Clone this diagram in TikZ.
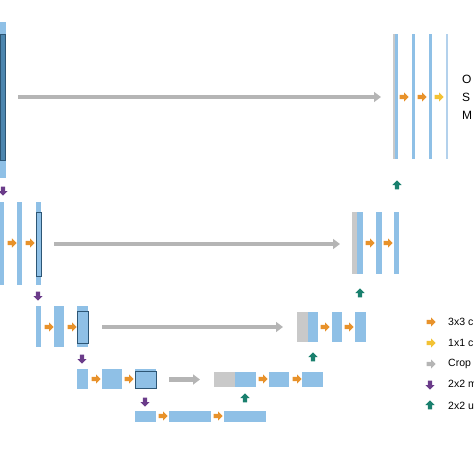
\documentclass[tikz,border=0pt]{standalone}
\usepackage{fontspec}
\setmainfont{Liberation Sans}
\usetikzlibrary{arrows.meta, positioning, shapes.arrows}
\tikzset{every node/.style={font=\fontsize{10.5}{12}\selectfont}}
\definecolor{ublue}{HTML}{8FC0E6}
\definecolor{ufaint}{HTML}{B3D1EC}
\definecolor{udark}{HTML}{4C86AF}
\definecolor{cutline}{HTML}{2D5675}
\definecolor{cropgray}{HTML}{C9C9C9}
\definecolor{skipgray}{HTML}{B5B5B5}
\definecolor{convorange}{HTML}{E8922B}
\definecolor{convyellow}{HTML}{F3C234}
\definecolor{poolpurple}{HTML}{6B3C8A}
\definecolor{upgreen}{HTML}{1A806E}

\begin{document}
\begin{tikzpicture}[x=1pt, y=-1pt,
    blk/.style={fill=ublue, inner sep=0pt, outer sep=0pt, anchor=north west},
    cropblk/.style={blk, fill=cropgray},
    cutbox/.style={draw=cutline, line width=1pt, inner sep=0pt, outer sep=0pt, anchor=north west},
    icon/.style={single arrow, inner sep=2pt, minimum height=9pt, single arrow head extend=2.4pt, single arrow head indent=0pt, outer sep=0pt},
    conv/.style={icon, fill=convorange},
    convone/.style={icon, fill=convyellow},
    cropicon/.style={icon, fill=skipgray},
    pool/.style={icon, fill=poolpurple, shape border rotate=270},
    upc/.style={icon, fill=upgreen, shape border rotate=90},
    skip/.style={draw=skipgray, line width=4.5pt, -{Triangle[length=7pt, width=10pt]}, shorten <=13pt, shorten >=12pt},
    lgd/.style={anchor=west, inner sep=0pt}]
  \useasboundingbox (0,0) rectangle (474,474);

  % contracting path
  \node[blk, minimum width=6pt, minimum height=156pt] (l1) at (0,22) {};
  \node[cutbox, fill=udark, minimum width=5pt, minimum height=126pt] (l1cut) at (0,34) {};
  \node[pool] (p1) at (3,190) {};

  \node[blk, minimum width=4pt, minimum height=83pt] (l2a) at (0,202) {};
  \node[blk, minimum width=5pt, minimum height=83pt] (l2b) at (17,202) {};
  \node[blk, minimum width=5pt, minimum height=83pt] (l2c) at (36,202) {};
  \node[cutbox, minimum width=5pt, minimum height=64pt] (l2cut) at (36,212) {};
  \node[conv] (c21) at (11,243) {};
  \node[conv] (c22) at (29,243) {};
  \node[pool] (p2) at (38,295) {};

  \node[blk, minimum width=5pt, minimum height=41pt] (l3a) at (36,306) {};
  \node[blk, minimum width=10pt, minimum height=41pt] (l3b) at (54,306) {};
  \node[blk, minimum width=11pt, minimum height=41pt] (l3c) at (77,306) {};
  \node[cutbox, minimum width=11pt, minimum height=32pt] (l3cut) at (77,311) {};
  \node[conv] (c31) at (48,327) {};
  \node[conv] (c32) at (71,327) {};
  \node[pool] (p3) at (82,358) {};

  \node[blk, minimum width=11pt, minimum height=20pt] (l4a) at (77,369) {};
  \node[blk, minimum width=20pt, minimum height=20pt] (l4b) at (102,369) {};
  \node[blk, minimum width=21pt, minimum height=20pt] (l4c) at (135,369) {};
  \node[cutbox, minimum width=21pt, minimum height=17pt] (l4cut) at (135,371) {};
  \node[conv] (c41) at (95,379) {};
  \node[conv] (c42) at (128,379) {};
  \node[pool] (p4) at (145,401) {};

  % bottom
  \node[blk, minimum width=21pt, minimum height=11pt] (b1) at (135,411) {};
  \node[blk, minimum width=42pt, minimum height=11pt] (b2) at (169,411) {};
  \node[blk, minimum width=42pt, minimum height=11pt] (b3) at (224,411) {};
  \node[conv] (c51) at (162,416) {};
  \node[conv] (c52) at (217,416) {};
  \node[upc] (u4) at (245,399) {};

  % expanding path
  \node[cropblk, minimum width=21pt, minimum height=15pt] (r4g) at (214,372) {};
  \node[blk, minimum width=21pt, minimum height=15pt] (r4a) at (235,372) {};
  \node[blk, minimum width=20pt, minimum height=15pt] (r4b) at (269,372) {};
  \node[blk, minimum width=21pt, minimum height=15pt] (r4c) at (302,372) {};
  \node[conv] (d41) at (262,379) {};
  \node[conv] (d42) at (296,379) {};
  \node[upc] (u3) at (313,358) {};

  \node[cropblk, minimum width=11pt, minimum height=30pt] (r3g) at (297,312) {};
  \node[blk, minimum width=10pt, minimum height=30pt] (r3a) at (308,312) {};
  \node[blk, minimum width=10pt, minimum height=30pt] (r3b) at (332,312) {};
  \node[blk, minimum width=11pt, minimum height=30pt] (r3c) at (355,312) {};
  \node[conv] (d31) at (324,327) {};
  \node[conv] (d32) at (348,327) {};
  \node[upc] (u2) at (360,294) {};

  \node[cropblk, minimum width=5pt, minimum height=62pt] (r2g) at (352,212) {};
  \node[blk, minimum width=6pt, minimum height=62pt] (r2a) at (357,212) {};
  \node[blk, minimum width=6pt, minimum height=62pt] (r2b) at (376,212) {};
  \node[blk, minimum width=5pt, minimum height=62pt] (r2c) at (394,212) {};
  \node[conv] (d21) at (369,243) {};
  \node[conv] (d22) at (387,243) {};
  \node[upc] (u1) at (397,186) {};

  \node[cropblk, minimum width=2pt, minimum height=125pt] (r1g) at (393,34) {};
  \node[blk, minimum width=3pt, minimum height=125pt] (r1a) at (395,34) {};
  \node[blk, minimum width=3pt, minimum height=125pt] (r1b) at (412,34) {};
  \node[blk, minimum width=3pt, minimum height=125pt] (r1c) at (429,34) {};
  \node[blk, fill=ufaint, minimum width=2pt, minimum height=125pt] (r1d) at (446,34) {};
  \node[conv] (d11) at (403,97) {};
  \node[conv] (d12) at (421,97) {};
  \node[convone] (d13) at (438,97) {};
  \node[anchor=west, inner sep=0pt, align=left, font=\fontsize{12}{18}\selectfont] (out) at (462,97) {O\\S\\M};

  % skip connections
  \draw[skip] (l1cut.east) -- (l1cut.east -| r1g.west);
  \draw[skip] (l2cut.east) -- (l2cut.east -| r2g.west);
  \draw[skip, shorten <=14pt, shorten >=14pt] (l3cut.east) -- (l3cut.east -| r3g.west);
  \draw[skip, shorten <=13pt, shorten >=14pt] (l4cut.east) -- (l4cut.east -| r4g.west);

  % legend
  \node[conv] (k1) at (430,322) {};
  \node[convone] (k2) at (430,343) {};
  \node[cropicon] (k3) at (430,364) {};
  \node[pool] (k4) at (430,384) {};
  \node[upc] (k5) at (430,406) {};
  \node[lgd] (t1) at (448,322) {3x3 c};
  \node[lgd] (t2) at (448,343) {1x1 c};
  \node[lgd] (t3) at (448,364) {Crop};
  \node[lgd] (t4) at (448,384) {2x2 m};
  \node[lgd] (t5) at (448,406) {2x2 u};
\end{tikzpicture}
\end{document}
